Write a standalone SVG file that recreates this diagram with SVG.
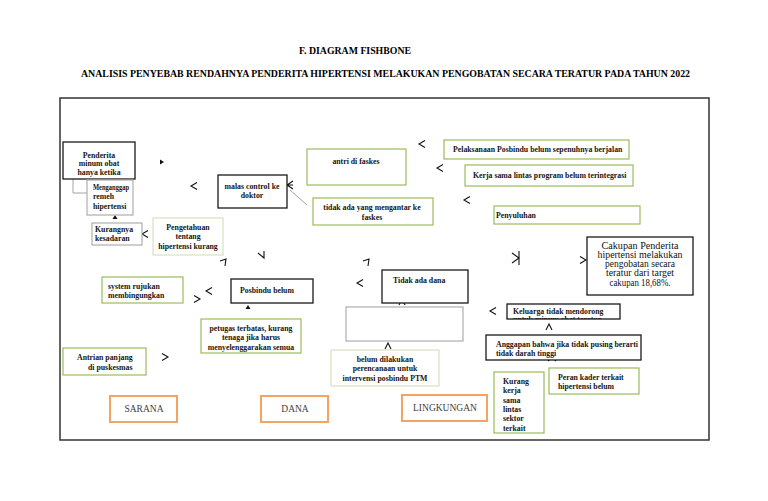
<svg xmlns="http://www.w3.org/2000/svg" width="768" height="501" viewBox="0 0 768 501">
<style>
.t{font-family:"Liberation Serif","Times New Roman",serif;font-size:7.8px;font-weight:bold;fill:#151515}
.c{text-anchor:middle}
.k{font-family:"Liberation Serif","Times New Roman",serif;font-size:9.5px;fill:#111;text-anchor:middle}
.h{font-family:"Liberation Serif","Times New Roman",serif;font-weight:bold;font-size:10px;fill:#000}
.bk{fill:#fff;stroke:#1a1a1a;stroke-width:1.3}
.gr{fill:#fff;stroke:#9bbb59;stroke-width:1.2}
.lg{fill:#fff;stroke:#d6e3c3;stroke-width:1.2}
.gy{fill:#fff;stroke:#a6a6a6;stroke-width:1.1}
.or{fill:#fff;stroke:#f4a460;stroke-width:2}
.ot{font-family:"Liberation Serif","Times New Roman",serif;font-size:9.5px;fill:#404040;text-anchor:middle}
.ah{fill:none;stroke:#111;stroke-width:1.1}
.ln{fill:none;stroke:#9a9a9a;stroke-width:0.9}
.tri{fill:#111}
</style>
<defs>
<path id="lt" d="M3,-3.5 L-3,0 L3,3.5"/>
<path id="gt" d="M-3,-3.5 L3,0 L-3,3.5"/>
<path id="up" d="M-3,3 L0,-3 L3,3"/>
<clipPath id="cpPend"><rect x="63" y="142" width="72" height="37"/></clipPath>
<clipPath id="cpCak"><rect x="587" y="237" width="106" height="58"/></clipPath>
<clipPath id="cpKel"><rect x="507" y="304" width="113" height="15"/></clipPath>
<clipPath id="cpAng"><rect x="486" y="335" width="155" height="25"/></clipPath>
<clipPath id="cpKur"><rect x="494" y="372" width="50" height="61"/></clipPath>
<clipPath id="cpPet"><rect x="201" y="319" width="100" height="34"/></clipPath>
</defs>
<rect width="768" height="501" fill="#fff"/>
<g id="title">
<text class="h" x="299" y="54" textLength="112" lengthAdjust="spacingAndGlyphs">F. DIAGRAM FISHBONE</text>
<text class="h" x="81" y="77" textLength="609" lengthAdjust="spacingAndGlyphs">ANALISIS PENYEBAB RENDAHNYA PENDERITA HIPERTENSI MELAKUKAN PENGOBATAN SECARA TERATUR PADA TAHUN 2022</text>
</g>
<rect id="frame" x="60" y="98" width="649" height="342" fill="none" stroke="#333" stroke-width="1.5"/>

<g id="connectors">
<polyline class="ln" points="87,193 73,193 73,176"/>
<use href="#up" x="74" y="174" class="ah"/>
<polygon class="tri" points="160,159.5 164,162 160,164.5"/>
<use href="#lt" x="194" y="186" class="ah"/>
<line class="ln" x1="290" y1="190" x2="307" y2="205"/>
<path class="ah" d="M293,181 L287,185 L293,189 M287,185 L293,185"/>
<polygon class="tri" points="112.5,219 115,215 117.5,219"/>
<use href="#lt" x="145" y="234" class="ah"/>
<use href="#lt" x="422" y="144" class="ah"/>
<use href="#lt" x="440" y="168" class="ah"/>
<use href="#lt" x="467" y="200" class="ah"/>
<path class="ah" d="M258,253 L264,258 L264,251"/>
<path class="ah" d="M220,261 L226,259 L225,266"/>
<path class="ah" d="M363,261 L369,259 L368,266"/>
<use href="#lt" x="360" y="283" class="ah"/>
<use href="#lt" x="209" y="291" class="ah"/>
<use href="#gt" x="197" y="299" class="ah"/>
<polygon class="tri" points="245.5,309 248,305 250.5,309"/>
<use href="#gt" x="165" y="357" class="ah"/>
<use href="#up" x="402" y="302" class="ah"/>
<use href="#up" x="388" y="346" class="ah"/>
<use href="#lt" x="493" y="311" class="ah"/>
<use href="#gt" x="583" y="260" class="ah"/>
<path class="ah" d="M519,251 L519,265 M512,253 L519,258 L512,263"/>
<use href="#up" x="549" y="327" class="ah"/>
<path class="ah" d="M548,353 L556,361 M556,353 L548,361"/>
</g>

<g id="penderita">
<rect class="bk" x="63" y="142" width="72" height="37"/>
<g clip-path="url(#cpPend)">
<text class="t c" x="99" y="158">Penderita</text>
<text class="t c" x="99" y="166">minum obat</text>
<text class="t c" x="99" y="175">hanya ketika</text>
</g>
</g>
<g id="menganggap">
<rect class="gy" x="87" y="180" width="46" height="35"/>
<text class="t" x="93" y="190" textLength="36" lengthAdjust="spacingAndGlyphs">Menganggap</text>
<text class="t" x="93" y="199">remeh</text>
<text class="t" x="93" y="209">hipertensi</text>
</g>
<g id="kurangnya">
<rect class="gy" x="92" y="223" width="50" height="22"/>
<text class="t" x="95" y="232">Kurangnya</text>
<text class="t" x="95" y="241">kesadaran</text>
</g>
<g id="pengetahuan">
<rect class="lg" x="153" y="218" width="70" height="37"/>
<text class="t c" x="188" y="230">Pengetahuan</text>
<text class="t c" x="188" y="239">tentang</text>
<text class="t c" x="188" y="249">hipertensi kurang</text>
</g>
<g id="malas">
<rect class="bk" x="218" y="175" width="69" height="33"/>
<text class="t c" x="252" y="189">malas control ke</text>
<text class="t c" x="252" y="198">doktor</text>
</g>
<g id="antri">
<rect class="gr" x="307" y="149" width="99" height="36"/>
<text class="t c" x="356" y="164">antri di faskes</text>
</g>
<g id="mengantar">
<rect class="gr" x="313" y="198" width="120" height="27"/>
<text class="t c" x="372" y="210">tidak ada yang mengantar ke</text>
<text class="t c" x="372" y="220">faskes</text>
</g>
<g id="pelaksanaan">
<rect class="gr" x="444" y="140" width="185" height="19"/>
<text class="t" x="453" y="152">Pelaksanaan Posbindu belum sepenuhnya berjalan</text>
</g>
<g id="kerjasama">
<rect class="gr" x="465" y="165" width="168" height="21"/>
<text class="t" x="473" y="178">Kerja sama lintas program belum terintegrasi</text>
</g>
<g id="penyuluhan">
<rect class="gr" x="494" y="206" width="146" height="18"/>
<text class="t" x="496" y="218">Penyuluhan</text>
</g>
<g id="cakupan">
<rect class="bk" x="587" y="237" width="106" height="58" stroke-width="2"/>
<g clip-path="url(#cpCak)">
<text class="k" x="640" y="249" textLength="77" lengthAdjust="spacingAndGlyphs">Cakupan Penderita</text>
<text class="k" x="640" y="257.5" textLength="85" lengthAdjust="spacingAndGlyphs">hipertensi melakukan</text>
<text class="k" x="640" y="266.5" textLength="70" lengthAdjust="spacingAndGlyphs">pengobatan secara</text>
<text class="k" x="640" y="275.5" textLength="68" lengthAdjust="spacingAndGlyphs">teratur dari target</text>
<text class="k" x="640" y="285.5" textLength="61" lengthAdjust="spacingAndGlyphs">cakupan 18,68%.</text>
</g>
</g>
<g id="keluarga">
<rect class="bk" x="507" y="304" width="113" height="15"/>
<g clip-path="url(#cpKel)">
<text class="t" x="513" y="314">Keluarga tidak mendorong</text>
<text class="t" x="513" y="322">untuk minum obat teratur</text>
</g>
</g>
<g id="anggapan">
<rect class="bk" x="486" y="335" width="155" height="25"/>
<g clip-path="url(#cpAng)">
<text class="t" x="496" y="347">Anggapan bahwa jika tidak pusing berarti</text>
<text class="t" x="496" y="356">tidak darah tinggi</text>
</g>
</g>
<g id="kurangkerja">
<rect class="gr" x="494" y="372" width="50" height="61"/>
<g clip-path="url(#cpKur)">
<text class="t" x="503" y="384">Kurang</text>
<text class="t" x="503" y="393">kerja</text>
<text class="t" x="503" y="403">sama</text>
<text class="t" x="503" y="412">lintas</text>
<text class="t" x="503" y="421">sektor</text>
<text class="t" x="503" y="431">terkait</text>
</g>
</g>
<g id="peran">
<rect class="gr" x="549" y="368" width="90" height="26"/>
<text class="t" x="558" y="380">Peran kader terkait</text>
<text class="t" x="558" y="389">hipertensi belum</text>
</g>
<g id="tidakdana">
<rect class="bk" x="382" y="270" width="86" height="33"/>
<text class="t" x="393" y="283">Tidak ada dana</text>
</g>
<g id="kosong">
<rect class="gy" x="346" y="307" width="117" height="34"/>
</g>
<g id="perencanaan">
<rect class="lg" x="331" y="350" width="108" height="36"/>
<text class="t c" x="385" y="362">belum dilakukan</text>
<text class="t c" x="385" y="371">perencanaan untuk</text>
<text class="t c" x="385" y="381">intervensi posbindu PTM</text>
</g>
<g id="rujukan">
<rect class="gr" x="102" y="277" width="81" height="26"/>
<text class="t" x="108" y="289">system rujukan</text>
<text class="t" x="108" y="298">membingungkan</text>
</g>
<g id="posbindu">
<rect class="bk" x="231" y="279" width="82" height="24"/>
<text class="t" x="240" y="293">Posbindu belum</text>
</g>
<g id="petugas">
<rect class="gr" x="201" y="319" width="100" height="34"/>
<g clip-path="url(#cpPet)">
<text class="t c" x="251" y="331">petugas terbatas, kurang</text>
<text class="t c" x="251" y="340">tenaga jika harus</text>
<text class="t c" x="251" y="350">menyelenggarakan semua</text>
</g>
</g>
<g id="antrian">
<rect class="gr" x="63" y="348" width="83" height="27"/>
<text class="t" x="77" y="360">Antrian panjang</text>
<text class="t" x="88" y="370">di puskesmas</text>
</g>
<g id="sarana">
<rect class="or" x="110" y="396" width="67" height="26"/>
<text class="ot" x="144" y="412">SARANA</text>
</g>
<g id="dana">
<rect class="or" x="261" y="396" width="67" height="26"/>
<text class="ot" x="295" y="412">DANA</text>
</g>
<g id="lingkungan">
<rect class="or" x="402" y="395" width="85" height="26"/>
<text class="ot" x="445" y="411">LINGKUNGAN</text>
</g>
</svg>
